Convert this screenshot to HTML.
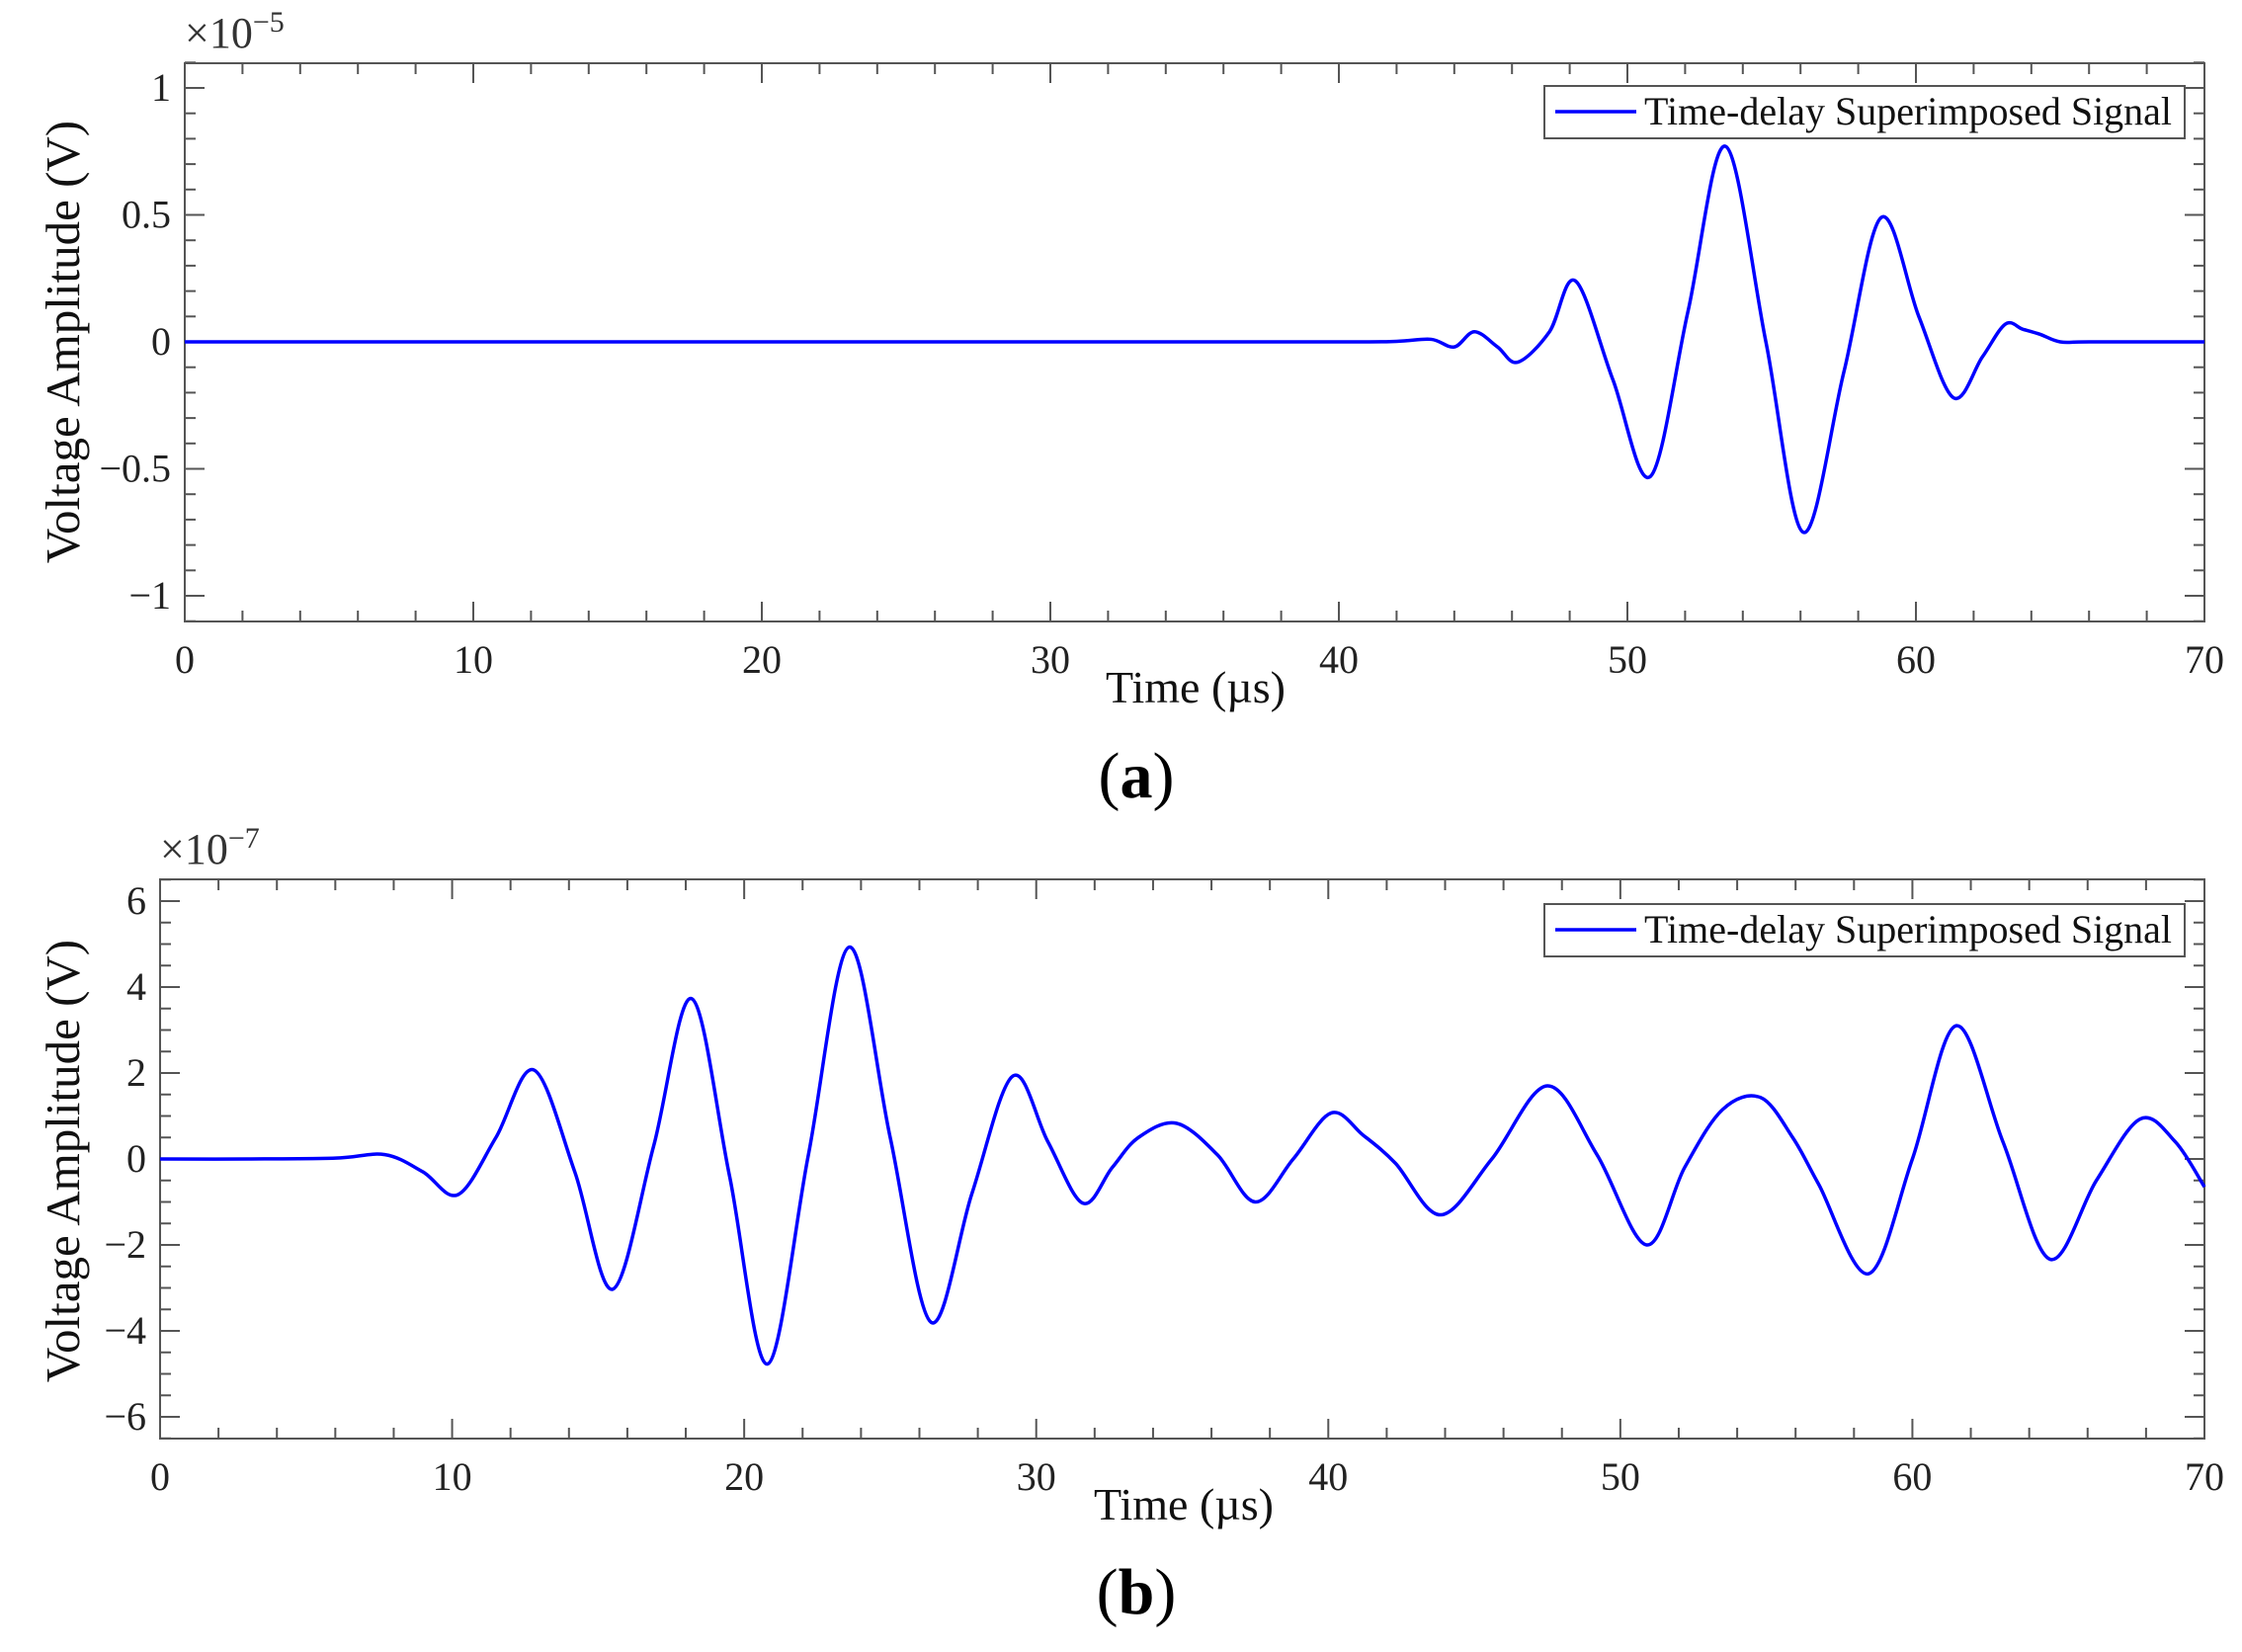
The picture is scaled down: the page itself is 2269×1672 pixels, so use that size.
<!DOCTYPE html>
<html><head><meta charset="utf-8">
<style>
html,body{margin:0;padding:0;background:#fff;}
svg{display:block;font-family:"Liberation Serif",serif;}
</style></head>
<body>
<svg id="fig" width="2269" height="1672" viewBox="0 0 2269 1672" xmlns="http://www.w3.org/2000/svg"></svg>
<script>
// Panel (a) data: time (µs) and voltage (×1e-5 V)
const timeA = [0,10,20,30,40,42,43.2,44,44.7,45.5,46.2,47.3,48.2,49.5,50.8,52.1,53.4,54.8,56.1,57.5,58.8,60.1,61.3,62.3,63.1,63.7,64.3,65,66,70];
const voltA = [0,0,0,0,0,0.002,0.01,-0.02,0.04,-0.02,-0.08,0.04,0.24,-0.15,-0.53,0.12,0.77,0.0,-0.75,-0.12,0.49,0.1,-0.22,-0.06,0.07,0.05,0.03,0,0,0];
// Panel (b) data: time (µs) and voltage (×1e-7 V)
const timeB = [0,3,6,7.7,9,10.2,11.5,12.8,14.2,15.5,16.9,18.2,19.5,20.8,22.2,23.6,25,26.4,27.8,29.2,30.4,31.6,32.6,33.5,34.8,36.2,37.5,38.8,40.1,41.2,42.3,43.85,45.6,47.5,49.2,50.9,52.2,53.5,54.8,55.9,56.8,58.5,60,61.5,63.1,64.7,66.3,67.8,69,70];
const voltB = [0,0,0.02,0.1,-0.3,-0.83,0.5,2.07,-0.3,-3.03,0.3,3.73,-0.4,-4.77,0.1,4.93,0.5,-3.8,-0.8,1.93,0.4,-1.03,-0.2,0.5,0.83,0.1,-1.0,0,1.07,0.55,-0.1,-1.3,0,1.7,0.1,-2.0,-0.2,1.15,1.43,0.5,-0.6,-2.67,0.0,3.1,0.4,-2.33,-0.5,0.93,0.4,-0.65];
const xTicks = [0,10,20,30,40,50,60,70];
const yTicksA = [1,0.5,0,-0.5,-1];
const yTickLabelsA = ["1","0.5","0","\u22120.5","\u22121"];
const yTicksB = [6,4,2,0,-2,-4,-6];
const yTickLabelsB = ["6","4","2","0","\u22122","\u22124","\u22126"];

const NS="http://www.w3.org/2000/svg";
const svg=document.getElementById('fig');
function el(tag,attrs,parent,text){const e=document.createElementNS(NS,tag);for(const k in attrs)e.setAttribute(k,attrs[k]);if(text!==undefined)e.textContent=text;(parent||svg).appendChild(e);return e;}

function panel(cfg){
  const g=el('g',{});
  
  
  const X=t=>cfg.L+(t-0)/(70-0)*(cfg.R-cfg.L);
  const Y=v=>cfg.y0-(v)*(cfg.y0-cfg.yTop)/cfg.yTopVal;
  const box=el('rect',{x:cfg.L,y:cfg.T,width:cfg.R-cfg.L,height:cfg.B-cfg.T,fill:'none',stroke:'#555',"stroke-width":2},g);
  
  
  for(let t=0;t<=70;t+=2){
    const major=t%10===0, len=major?20:11;
    el('line',{x1:X(t),x2:X(t),y1:cfg.B,y2:cfg.B-len,stroke:'#555',"stroke-width":2},g);
    el('line',{x1:X(t),x2:X(t),y1:cfg.T,y2:cfg.T+len,stroke:'#555',"stroke-width":2},g);
  }
  xTicks.forEach(t=>{
    const tx=el('text',{x:X(t),y:cfg.B+52,"font-size":40,"text-anchor":"middle",fill:'#222'},g,String(t));
    
    
  });
  for(let v=cfg.yMin;v<=cfg.yTopVal*1.0001+cfg.extraTop;v+=cfg.minor){
    const vv=Math.round(v/cfg.minor)*cfg.minor;
    if(Y(vv)<cfg.T-1)continue;
    const major=Math.abs(vv/cfg.major-Math.round(vv/cfg.major))<1e-6, len=major?20:11;
    el('line',{x1:cfg.L,x2:cfg.L+len,y1:Y(vv),y2:Y(vv),stroke:'#555',"stroke-width":2},g);
    el('line',{x1:cfg.R,x2:cfg.R-len,y1:Y(vv),y2:Y(vv),stroke:'#555',"stroke-width":2},g);
  }
  cfg.yTicks.forEach((v,i)=>{
    const ty=el('text',{x:cfg.L-14,y:Y(v)+13,"font-size":40,"text-anchor":"end",fill:'#222'},g,cfg.yLabels[i]);
    
    
  });
  const pts=cfg.t.map((t,i)=>[X(t),Y(cfg.v[i])]);
  let d='M'+pts[0][0]+','+pts[0][1];
  for(let i=0;i<pts.length-1;i++){
    const p0=pts[Math.max(0,i-1)],p1=pts[i],p2=pts[i+1],p3=pts[Math.min(pts.length-1,i+2)];
    const c1=[p1[0]+(p2[0]-p0[0])/6,p1[1]+(p2[1]-p0[1])/6];
    const c2=[p2[0]-(p3[0]-p1[0])/6,p2[1]-(p3[1]-p1[1])/6];
    d+=`C${c1[0]},${c1[1]} ${c2[0]},${c2[1]} ${p2[0]},${p2[1]}`;
  }
  const line=el('path',{d:d,fill:'none',stroke:'#0000ff',"stroke-width":3.5,"stroke-linejoin":"round"},g);
  
  
  const ex=el('text',{x:cfg.L,y:cfg.T-16,"font-size":44,fill:'#333'},g);
  
  
  el('tspan',{},ex,'\u00d710');
  el('tspan',{dy:-16,"font-size":30},ex,cfg.exp);
  const xl=el('text',{x:cfg.xlx,y:cfg.B+82,"font-size":46,"text-anchor":"middle",fill:'#111'},g,'Time (\u00b5s)');
  
  
  const yl=el('text',{x:0,y:0,"font-size":49,"text-anchor":"middle",fill:'#111',transform:`translate(80,${cfg.ylY}) rotate(-90)`},g,'Voltage Amplitude (V)');
  
  
  const lg=el('g',{},g);
  
  
  el('rect',{x:1563,y:cfg.legT,width:648,height:53,fill:'#fff',stroke:'#555',"stroke-width":2},lg);
  el('line',{x1:1574,x2:1656,y1:cfg.legT+26,y2:cfg.legT+26,stroke:'#0000ff',"stroke-width":3.5},lg);
  const lt=el('text',{x:1664,y:cfg.legT+39,"font-size":40,fill:'#111'},lg,'Time-delay Superimposed Signal');
  
  
  const pl=el('text',{x:1150,y:cfg.letterY,"font-size":66,"font-weight":"bold","text-anchor":"middle",fill:'#000'},g);
  
  
  el('tspan',{"font-weight":"normal"},pl,'(');
  el('tspan',{},pl,cfg.letter);
  el('tspan',{"font-weight":"normal"},pl,')');
}

panel({name:'panel-a',L:187,R:2231,T:64,B:629,y0:346,yTop:89,yTopVal:1,yMin:-1.1,extraTop:0.1,minor:0.1,major:0.5,
  yTicks:yTicksA,yLabels:yTickLabelsA,t:timeA,v:voltA,exp:'\u22125',xlx:1210,ylY:346,legT:87,letter:'a',letterY:807});
panel({name:'panel-b',L:162,R:2231,T:890,B:1456,y0:1173,yTop:912,yTopVal:6,yMin:-6.5,extraTop:0.5,minor:0.5,major:2,
  yTicks:yTicksB,yLabels:yTickLabelsB,t:timeB,v:voltB,exp:'\u22127',xlx:1198,ylY:1175,legT:915,letter:'b',letterY:1633});
</script>
</body></html>
